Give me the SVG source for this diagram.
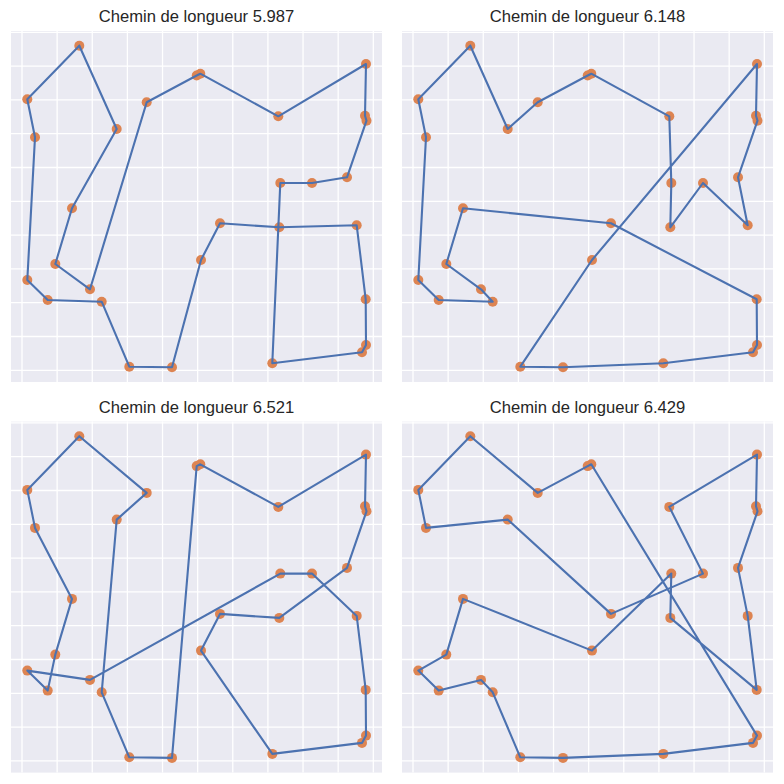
<svg xmlns="http://www.w3.org/2000/svg" xmlns:xlink="http://www.w3.org/1999/xlink" width="784" height="784" viewBox="0 0 784 784">
<style>
.bg{fill:#EAEAF2}
.grid{stroke:#FFFFFF;stroke-width:1.3;fill:none}
.title{font-family:"Liberation Sans",Arial,sans-serif;font-size:16.6px;fill:#262626;text-anchor:middle}
.tour{fill:none;stroke:#4C72B0;stroke-width:2.1;stroke-linejoin:round;stroke-linecap:round}
.city{fill:#DD8452}
</style>
<defs>
<g id="axes">
<rect class="bg" x="11" y="31" width="371" height="351"/>
<path class="grid" d="M22,31V382M57.13,31V382M92.26,31V382M127.39,31V382M162.52,31V382M197.65,31V382M232.78,31V382M267.91,31V382M303.04,31V382M338.17,31V382M373.3,31V382M11,32.3H382M11,66.1H382M11,99.9H382M11,133.7H382M11,167.5H382M11,201.3H382M11,235.1H382M11,268.9H382M11,302.7H382M11,336.5H382M11,370.3H382"/>
</g>
<g id="cities">
<circle class="city" cx="79.3" cy="45.7" r="5"/>
<circle class="city" cx="27.3" cy="99.3" r="5"/>
<circle class="city" cx="35" cy="137.3" r="5"/>
<circle class="city" cx="27.3" cy="280" r="5"/>
<circle class="city" cx="47.7" cy="300" r="5"/>
<circle class="city" cx="101.7" cy="301.7" r="5"/>
<circle class="city" cx="129.3" cy="366.7" r="5"/>
<circle class="city" cx="172" cy="367.3" r="5"/>
<circle class="city" cx="201" cy="260" r="5"/>
<circle class="city" cx="220" cy="223.3" r="5"/>
<circle class="city" cx="279.3" cy="227.3" r="5"/>
<circle class="city" cx="356.7" cy="225.3" r="5"/>
<circle class="city" cx="365.7" cy="299.3" r="5"/>
<circle class="city" cx="366" cy="345" r="5"/>
<circle class="city" cx="362" cy="352.3" r="5"/>
<circle class="city" cx="272.3" cy="363.3" r="5"/>
<circle class="city" cx="280.3" cy="183" r="5"/>
<circle class="city" cx="312" cy="183" r="5"/>
<circle class="city" cx="347" cy="177.3" r="5"/>
<circle class="city" cx="366.5" cy="120.7" r="5"/>
<circle class="city" cx="365" cy="115.7" r="5"/>
<circle class="city" cx="366" cy="64" r="5"/>
<circle class="city" cx="278.3" cy="116.3" r="5"/>
<circle class="city" cx="196.7" cy="75.5" r="5"/>
<circle class="city" cx="200.3" cy="73.7" r="5"/>
<circle class="city" cx="146.7" cy="102.3" r="5"/>
<circle class="city" cx="90" cy="289.3" r="5"/>
<circle class="city" cx="55.3" cy="264" r="5"/>
<circle class="city" cx="72" cy="208.3" r="5"/>
<circle class="city" cx="116.7" cy="129" r="5"/>
</g>
</defs>

<g id="plot1">
<use xlink:href="#axes"/>
<text class="title" x="196.5" y="22">Chemin de longueur 5.987</text>
<use xlink:href="#cities"/>
<polyline class="tour" points="79.3,45.7 116.7,129 72,208.3 55.3,264 90,289.3 146.7,102.3 196.7,75.5 200.3,73.7 278.3,116.3 366,64 365,115.7 366.5,120.7 347,177.3 312,183 280.3,183 272.3,363.3 362,352.3 366,345 365.7,299.3 356.7,225.3 279.3,227.3 220,223.3 201,260 172,367.3 129.3,366.7 101.7,301.7 47.7,300 27.3,280 35,137.3 27.3,99.3 79.3,45.7"/>
</g>

<g id="plot2" transform="translate(391,0)">
<use xlink:href="#axes"/>
<text class="title" x="196.5" y="22">Chemin de longueur 6.148</text>
<use xlink:href="#cities"/>
<polyline class="tour" points="79.3,45.7 27.3,99.3 35,137.3 27.3,280 47.7,300 101.7,301.7 90,289.3 55.3,264 72,208.3 220,223.3 365.7,299.3 366,345 362,352.3 272.3,363.3 172,367.3 129.3,366.7 201,260 366,64 365,115.7 366.5,120.7 347,177.3 356.7,225.3 312,183 279.3,227.3 280.3,183 278.3,116.3 200.3,73.7 196.7,75.5 146.7,102.3 116.7,129 79.3,45.7"/>
</g>

<g id="plot3" transform="translate(0,390.6)">
<use xlink:href="#axes"/>
<text class="title" x="196.5" y="22">Chemin de longueur 6.521</text>
<use xlink:href="#cities"/>
<polyline class="tour" points="79.3,45.7 146.7,102.3 116.7,129 101.7,301.7 129.3,366.7 172,367.3 196.7,75.5 200.3,73.7 278.3,116.3 366,64 365,115.7 366.5,120.7 347,177.3 279.3,227.3 220,223.3 201,260 272.3,363.3 362,352.3 366,345 365.7,299.3 356.7,225.3 312,183 280.3,183 90,289.3 27.3,280 47.7,300 55.3,264 72,208.3 35,137.3 27.3,99.3 79.3,45.7"/>
</g>

<g id="plot4" transform="translate(391,390.6)">
<use xlink:href="#axes"/>
<text class="title" x="196.5" y="22">Chemin de longueur 6.429</text>
<use xlink:href="#cities"/>
<polyline class="tour" points="79.3,45.7 146.7,102.3 196.7,75.5 200.3,73.7 366,345 362,352.3 272.3,363.3 172,367.3 129.3,366.7 101.7,301.7 90,289.3 47.7,300 27.3,280 55.3,264 72,208.3 201,260 280.3,183 279.3,227.3 365.7,299.3 356.7,225.3 347,177.3 366.5,120.7 365,115.7 366,64 278.3,116.3 312,183 220,223.3 116.7,129 35,137.3 27.3,99.3 79.3,45.7"/>
</g>
</svg>
